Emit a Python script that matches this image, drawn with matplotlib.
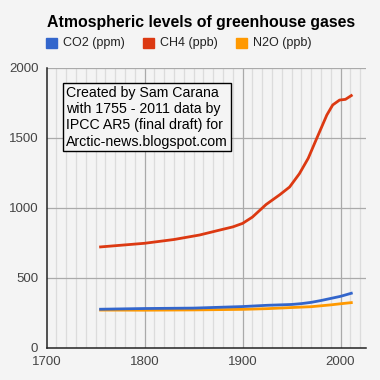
import numpy as np
import matplotlib.pyplot as plt
from matplotlib.patches import Rectangle

# values (1755 - 2011)
years_ch4 = [1755, 1800, 1830, 1856, 1877, 1890, 1900, 1910, 1924, 1938, 1948, 1958, 1967, 1975, 1986, 1992, 1999, 2005, 2011]
ch4 = [722, 748, 775, 807, 843, 865, 890, 935, 1025, 1095, 1150, 1245, 1355, 1486, 1664, 1736, 1771, 1776, 1803]

years_co2 = [1755, 1800, 1850, 1900, 1925, 1950, 1960, 1970, 1980, 1990, 2000, 2011]
co2 = [277, 282, 285, 296, 305, 311, 317, 326, 339, 354, 369, 391]

years_n2o = [1755, 1800, 1850, 1900, 1925, 1950, 1970, 1990, 2000, 2011]
n2o = [271, 270, 272, 276, 281, 289, 295, 308, 316, 324]

series = ['CO2 (ppm)', 'CH4 (ppb)', 'N2O (ppb)']
colors = ['#3366cc', '#dc3912', '#ff9900']

plt.rcParams['font.family'] = ['Liberation Sans', 'DejaVu Sans']
bg = '#f4f4f4'

fig = plt.figure(figsize=(3.8, 3.8), dpi=100, facecolor=bg)
ax = fig.add_axes([46.7 / 380, 32 / 380, 319.3 / 380, 280 / 380], facecolor=bg)

# grid
for x in range(1710, 2030, 10):
    major = x % 100 == 0
    ax.axvline(x, color='#aaaaaa' if major else '#dcdcdc', lw=0.9, zorder=0)
for y in [500, 1000, 1500, 2000]:
    ax.axhline(y, color='#aaaaaa', lw=0.9, zorder=0)

ax.plot(years_co2, co2, color=colors[0], lw=2.0, zorder=3)
ax.plot(years_n2o, n2o, color=colors[2], lw=2.0, zorder=2)
ax.plot(years_ch4, ch4, color=colors[1], lw=2.0, zorder=3)

ax.set_xlim(1700, 2026)
ax.set_ylim(0, 2000)
ax.set_xticks([1700, 1800, 1900, 2000])
ax.set_yticks([0, 500, 1000, 1500, 2000])
ax.tick_params(length=0, labelsize=9.5, colors='#444444', pad=6)
for s in ['top', 'right']:
    ax.spines[s].set_visible(False)
for s in ['left', 'bottom']:
    ax.spines[s].set_color('#222222')
    ax.spines[s].set_linewidth(1.1)

fig.text(46.7 / 380, 1 - 23 / 380, 'Atmospheric levels of greenhouse gases',
         fontsize=11.4, fontweight='bold', va='center', ha='left')

# legend row
leg_x = [46, 143, 236]
for xp, label, c in zip(leg_x, series, colors):
    fig.patches.append(Rectangle((xp / 380, 1 - 48 / 380), 11 / 380, 10 / 380,
                                 transform=fig.transFigure, color=c))
    fig.text((xp + 17) / 380, 1 - 43 / 380, label, fontsize=9,
             color='#222222', va='center', ha='left')

fig.text(66 / 380, 1 - 86 / 380,
         'Created by Sam Carana\nwith 1755 - 2011 data by\nIPCC AR5 (final draft) for\nArctic-news.blogspot.com',
         fontsize=10.2, va='top', ha='left', linespacing=1.2,
         bbox=dict(boxstyle='square,pad=0.2', facecolor=bg, edgecolor='black', lw=1))

fig.savefig('out.png', dpi=100, facecolor=bg)
